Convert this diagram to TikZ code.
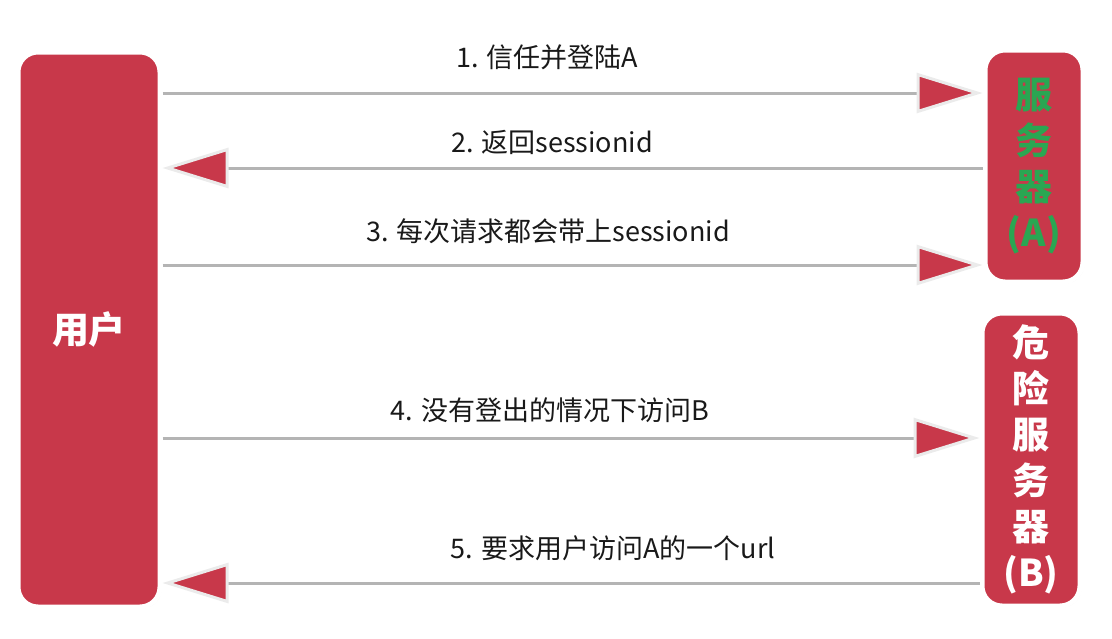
\documentclass[tikz,border=0pt]{standalone}
\usepackage{fontspec}
\setmainfont{Noto Sans CJK SC}
\usepackage{xcolor}
\usepackage{tikz}
\usetikzlibrary{arrows.meta, calc, positioning, shadows}
\definecolor{boxred}{HTML}{C8384A}
\definecolor{srvgreen}{HTML}{2AA652}
\definecolor{linegray}{HTML}{B4B4B4}

\begin{document}
\begin{tikzpicture}[
 x=1pt, y=-1pt,
 party/.style={draw=white, line width=5pt, fill=boxred, rounded corners=20pt,
  drop shadow={opacity=0.25, shadow xshift=1.5pt, shadow yshift=-1.5pt},
  text=white, font=\bfseries\fontsize{37}{46}\selectfont, align=center, inner sep=0pt},
 msglabel/.style={font=\fontsize{27}{32}\selectfont, text=black!90},
 msg/.style={linegray, line width=3pt, shorten >=0pt,
  -{Triangle[length=66pt, width=40pt, color=black!8, fill=boxred, line width=3pt]}},
 ]
 \useasboundingbox (0,0) rectangle (1112,638);
 \node[party, minimum width=142pt, minimum height=555pt, font=\bfseries\fontsize{37}{44}\selectfont]
  (user) at (89,329.5) {用户};
 \node[party, minimum width=98pt, minimum height=232pt, text=srvgreen]
  (srvA) at (1034,166) {服\\务\\器\\(A)};
 \node[party, minimum width=98pt, minimum height=293pt]
  (srvB) at (1031,459.5) {危\\险\\服\\务\\器\\(B)};

 % messages
 \draw[msg] (user.east |- {0,93}) -- (srvA.west |- {0,93});
 \draw[msg] (srvA.west |- {0,168}) -- (user.east |- {0,168});
 \draw[msg] (user.east |- {0,265}) -- (srvA.west |- {0,265});
 \draw[msg] (user.east |- {0,438}) -- (srvB.west |- {0,438});
 \draw[msg] (srvB.west |- {0,583}) -- (user.east |- {0,583});

 \node[msglabel] (m1) at (547,57) {1. 信任并登陆A};
 \node[msglabel] (m2) at (552,142) {2. 返回sessionid};
 \node[msglabel] (m3) at (548,231) {3. 每次请求都会带上sessionid};
 \node[msglabel] (m4) at (550,410) {4. 没有登出的情况下访问B};
 \node[msglabel] (m5) at (613,548) {5. 要求用户访问A的一个url};
\end{tikzpicture}
\end{document}
